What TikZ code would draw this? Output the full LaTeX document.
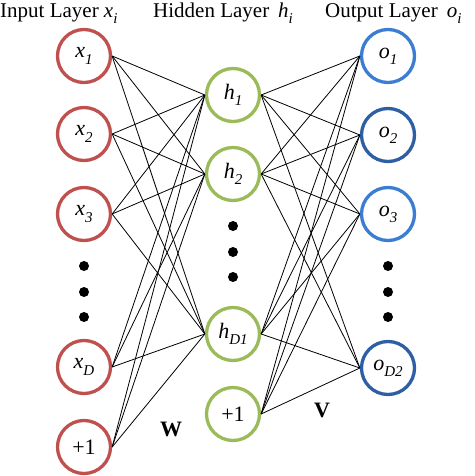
\documentclass[tikz,border=0pt]{standalone}
\usepackage{fontspec}
\setmainfont{Liberation Serif}
\definecolor{inred}{RGB}{192,80,77}
\definecolor{hidgreen}{RGB}{155,187,89}
\definecolor{outblue}{RGB}{58,125,210}
\definecolor{outdark}{RGB}{46,95,165}
\newcommand{\nlab}[2]{\textit{#1}\raisebox{-0.28em}{\fontsize{15}{15}\selectfont\textit{#2}}}
\tikzset{
 neuron/.style={circle, minimum size=53pt, line width=3.3pt, inner sep=0pt, font=\fontsize{22}{22}\selectfont},
 inp/.style={neuron, draw=inred},
 hid/.style={neuron, draw=hidgreen},
 outl/.style={neuron, draw=outblue},
 outd/.style={neuron, draw=outdark},
 conn/.style={line width=0.8pt, black},
 vdot/.style={circle, fill=black, minimum size=10pt, inner sep=0pt},
 ttl/.style={anchor=base west, font=\fontsize{21}{21}\selectfont, inner sep=0pt},
 wlab/.style={font=\fontsize{22}{22}\selectfont\bfseries, inner sep=0pt}
}
\begin{document}
\begin{tikzpicture}[x=1pt,y=-1pt]
\useasboundingbox (0,0) rectangle (474,476);
% titles
\node[ttl] (t1) at (0,18) {Input Layer \nlab{x}{i}};
\node[ttl] (t2) at (153,18) {Hidden Layer\hspace{9pt}\nlab{h}{i}};
\node[ttl] (t3) at (325,18) {Output Layer\hspace{9pt}\nlab{o}{i}};
% input layer
\node[inp] (x1) at (84,56) {\nlab{x}{1}};
\node[inp] (x2) at (84,134) {\nlab{x}{2}};
\node[inp] (x3) at (84,214) {\nlab{x}{3}};
\node[vdot] (di1) at (84,266) {};
\node[vdot] (di2) at (84,292) {};
\node[vdot] (di3) at (84,317) {};
\node[inp] (xD) at (84,367) {\nlab{x}{D}};
\node[inp] (xb) at (84,447) {+1};
% hidden layer
\node[hid] (h1) at (233,95) {\nlab{h}{1}};
\node[hid] (h2) at (233,174) {\nlab{h}{2}};
\node[vdot] (dh1) at (233,226) {};
\node[vdot] (dh2) at (233,252) {};
\node[vdot] (dh3) at (233,277) {};
\node[hid] (hD) at (233,334) {\nlab{h}{D1}};
\node[hid] (hb) at (233,414) {+1};
% output layer
\node[outl] (o1) at (388,56) {\nlab{o}{1}};
\node[outd] (o2) at (388,135) {\nlab{o}{2}};
\node[outl] (o3) at (388,214) {\nlab{o}{3}};
\node[vdot] (do1) at (388,266) {};
\node[vdot] (do2) at (388,292) {};
\node[vdot] (do3) at (388,317) {};
\node[outd] (oD) at (388,368) {\nlab{o}{D2}};
% connections
\foreach \i in {x1,x2,x3,xD,xb}
  \foreach \h in {h1,h2,hD}
    \draw[conn] (\i.east) -- (\h.west);
\foreach \h in {h1,h2,hD,hb}
  \foreach \o in {o1,o2,o3,oD}
    \draw[conn] (\h.east) -- (\o.west);
% weight labels
\node[wlab] (W) at (171,429) {W};
\node[wlab] (V) at (322,410) {V};
\end{tikzpicture}
\end{document}
